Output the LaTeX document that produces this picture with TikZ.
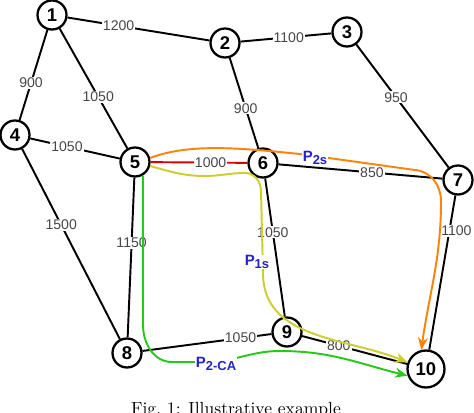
\documentclass[tikz,border=0pt]{standalone}
\usepackage{fontspec}
\setsansfont{Liberation Sans}
\usetikzlibrary{arrows.meta}

\definecolor{routeorange}{RGB}{255,130,10}
\definecolor{routeyellow}{RGB}{205,205,45}
\definecolor{routegreen}{RGB}{40,200,25}
\definecolor{routeblue}{RGB}{35,35,195}
\definecolor{linkred}{RGB}{215,0,0}

\newcommand{\pname}[1]{P\raisebox{-0.3ex}{\fontsize{7.4}{8}\selectfont #1}}

\tikzset{
    station/.style={circle,draw,line width=1.3pt,fill=white,minimum size=0.58cm,inner sep=0pt,
        font=\sffamily\bfseries\fontsize{10.5}{12}\selectfont},
    link/.style={line width=1.1pt},
    cost/.style={fill=white,inner sep=0.6pt,text=black!72,font=\sffamily\fontsize{8}{9}\selectfont},
    route/.style={line width=1.1pt,-{Stealth[length=0.25cm,width=0.2cm]}},
    routename/.style={fill=white,inner sep=0.5pt,text=routeblue,font=\sffamily\bfseries\fontsize{8.5}{10}\selectfont}
}

\begin{document}
\begin{tikzpicture}[x=0.02cm,y=0.02cm]
    \useasboundingbox (0,0) rectangle (474,413);
    \node[station] (n1) at (52,398) {1};
    \node[station] (n2) at (225,370) {2};
    \node[station] (n3) at (347,381) {3};
    \node[station] (n4) at (15,278) {4};
    \node[station] (n5) at (135,251) {5};
    \node[station] (n6) at (263,250) {6};
    \node[station] (n7) at (458,233) {7};
    \node[station] (n8) at (127,60) {8};
    \node[station] (n9) at (287,81) {9};
    \node[station,minimum size=0.74cm] (n10) at (426,44) {10};

    \draw[link] (n1) -- node[cost,pos=0.36] {1200} (n2);
    \draw[link] (n2) -- node[cost,pos=0.53] {1100} (n3);
    \draw[link] (n1) -- node[cost,pos=0.59] {900} (n4);
    \draw[link] (n1) -- node[cost,pos=0.57] {1050} (n5);
    \draw[link] (n3) -- node[cost,pos=0.43] {950} (n7);
    \draw[link] (n2) -- node[cost,pos=0.56] {900} (n6);
    \draw[link] (n4) -- node[cost,pos=0.41] {1050} (n5);
    \draw[link,linkred] (n5) -- node[cost,pos=0.62] {1000} (n6);
    \draw[link] (n6) -- node[cost,pos=0.57] {850} (n7);
    \draw[link] (n4) -- node[cost,pos=0.40] {1500} (n8);
    \draw[link] (n5) -- node[cost,pos=0.41] {1150} (n8);
    \draw[link] (n6) -- node[cost,pos=0.39] {1050} (n9);
    \draw[link] (n7) -- node[cost,pos=0.23,xshift=0.14cm] {1100} (n10);
    \draw[link] (n8) -- node[cost,pos=0.76] {1050} (n9);
    \draw[link] (n9) -- node[cost,pos=0.35] {800} (n10);

    \draw[route,routeorange] (n5.15) .. controls (190,270) and (240,265) .. (300,259)
        -- (415,243) to[out=-5,in=90] (441,212) to[out=-90,in=82] (n10.104);
    \draw[route,routeyellow] (n5.-15) to[out=-15,in=180] (205,237) to[out=0,in=180] (245,240)
        to[out=0,in=90] (261,222) -- (263,140) to[out=-90,in=158] (n10.160);
    \draw[route,routegreen] (n5.-60) -- (143,88) to[out=-90,in=180] (172,51) -- (205,51)
        to[out=0,in=180] (280,62) to[out=0,in=166] (n10.200);

    \node[routename] (p2s) at (315,255) {\pname{2s}};
    \node[routename] (p1s) at (257,151) {\pname{1s}};
    \node[routename] (p2ca) at (216,49) {\pname{2-CA}};

    \node[anchor=base,font=\rmfamily\fontsize{10}{12}\selectfont] (caption) at (236,-2) {Fig.~1: Illustrative example};
\end{tikzpicture}
\end{document}
